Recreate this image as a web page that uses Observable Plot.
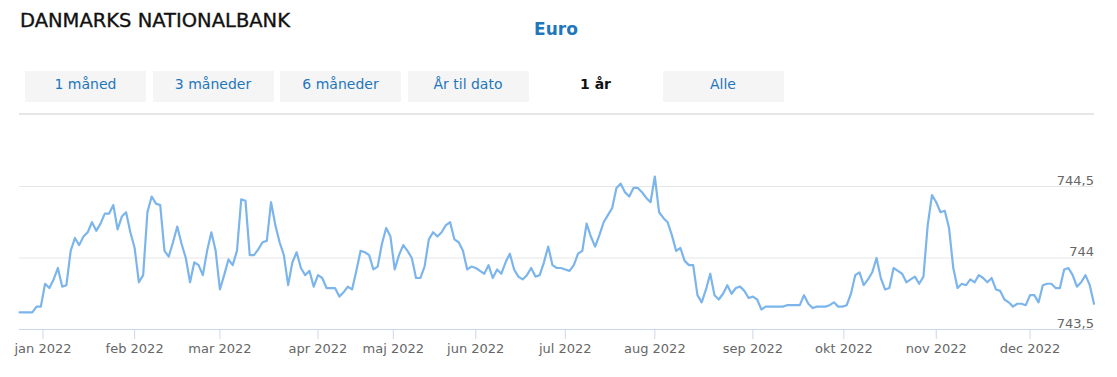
<!DOCTYPE html>
<html>
<head>
<meta charset="utf-8">
<script src="https://cdn.jsdelivr.net/npm/d3@7"></script>
<script src="https://cdn.jsdelivr.net/npm/@observablehq/plot@0.6"></script>
<style>
  html, body { margin: 0; padding: 0; background: #fff; }
  body { width: 1117px; height: 377px; position: relative; overflow: hidden; font-family: "DejaVu Sans", Verdana, sans-serif; }
  .title { position: absolute; left: 20px; top: 11px; font-size: 19.5px; line-height: 19.5px; color: #111; white-space: nowrap; -webkit-text-stroke: 0.35px #111; }
  .series { position: absolute; left: 0; width: 1112px; text-align: center; top: 21px; font-size: 17px; line-height: 17px; font-weight: bold; color: #1f77bb; }
  .btn { position: absolute; top: 71px; height: 31px; width: 121px; background: #f5f5f5; text-align: center; font-size: 14px; line-height: 27px; color: #1f77bb; white-space: nowrap; }
  .btn.sel { background: transparent; color: #111; font-weight: bold; }
  .sep { position: absolute; left: 19px; width: 1075px; top: 113px; height: 2px; background: #e6e6e6; }
  #chart { position: absolute; left: 0; top: 120px; }
</style>
</head>
<body>
<div class="title">DANMARKS NATIONALBANK</div>
<div class="series">Euro</div>
<div id="buttons"></div>
<div class="sep"></div>
<div id="chart"></div>
<script>
// Kurs for 100 EUR i DKK, bankdage 22-12-2021 .. 22-12-2022
const values = [
743.62, 743.62, 743.62, 743.62, 743.66, 743.66, 743.82, 743.79, 743.85, 743.93,
743.80, 743.81, 744.05, 744.14, 744.09, 744.15, 744.18, 744.25, 744.19, 744.24,
744.31, 744.31, 744.37, 744.20, 744.29, 744.32, 744.18, 744.07, 743.83, 743.88,
744.32, 744.43, 744.38, 744.37, 744.05, 744.01, 744.11, 744.22, 744.10, 744.00,
743.83, 743.97, 743.95, 743.88, 744.05, 744.18, 744.05, 743.78, 743.88, 743.99,
743.95, 744.05, 744.41, 744.40, 744.02, 744.02, 744.06, 744.11, 744.12, 744.39,
744.23, 744.11, 744.02, 743.81, 743.97, 744.04, 743.93, 743.88, 743.91, 743.80,
743.88, 743.86, 743.79, 743.79, 743.79, 743.73, 743.76, 743.80, 743.78, 743.91,
744.05, 744.04, 744.02, 743.92, 743.94, 744.10, 744.21, 744.15, 743.92, 744.02,
744.09, 744.05, 744.00, 743.86, 743.86, 743.94, 744.13, 744.18, 744.15, 744.18,
744.23, 744.25, 744.13, 744.11, 744.05, 743.92, 743.94, 743.93, 743.91, 743.89,
743.95, 743.86, 743.92, 743.89, 743.97, 744.03, 743.92, 743.87, 743.85, 743.88,
743.93, 743.87, 743.88, 743.97, 744.08, 743.95, 743.93, 743.93, 743.92, 743.91,
743.95, 744.03, 744.05, 744.24, 744.15, 744.08, 744.16, 744.25, 744.30, 744.35,
744.49, 744.52, 744.46, 744.43, 744.49, 744.49, 744.46, 744.42, 744.39, 744.57,
744.32, 744.28, 744.25, 744.16, 744.05, 744.07, 743.98, 743.95, 743.95, 743.74,
743.69, 743.78, 743.89, 743.74, 743.71, 743.75, 743.81, 743.75, 743.79, 743.80,
743.77, 743.72, 743.73, 743.71, 743.64, 743.66, 743.66, 743.66, 743.66, 743.66,
743.67, 743.67, 743.67, 743.67, 743.74, 743.68, 743.65, 743.66, 743.66, 743.66,
743.67, 743.69, 743.66, 743.66, 743.67, 743.75, 743.88, 743.90, 743.81, 743.85,
743.90, 744.00, 743.86, 743.78, 743.79, 743.93, 743.91, 743.89, 743.83, 743.85,
743.87, 743.82, 743.87, 744.23, 744.44, 744.39, 744.32, 744.33, 744.21, 743.93,
743.79, 743.82, 743.81, 743.85, 743.83, 743.88, 743.86, 743.83, 743.86, 743.78,
743.77, 743.71, 743.69, 743.66, 743.68, 743.68, 743.67, 743.74, 743.74, 743.69,
743.81, 743.82, 743.82, 743.79, 743.79, 743.92, 743.93, 743.88, 743.80, 743.83,
743.88, 743.81, 743.68
];
const startDate = "2021-12-22";
const endDate = "2022-12-22";
const bankHolidays = ["2021-12-24", "2021-12-31", "2022-04-14", "2022-04-15", "2022-04-18",
                      "2022-05-13", "2022-05-26", "2022-05-27", "2022-06-06"];
const monthStarts = ["2022-01-01", "2022-02-01", "2022-03-01", "2022-04-01", "2022-05-01", "2022-06-01",
                     "2022-07-01", "2022-08-01", "2022-09-01", "2022-10-01", "2022-11-01", "2022-12-01"];
const monthLabels = ["jan 2022", "feb 2022", "mar 2022", "apr 2022", "maj 2022", "jun 2022",
                     "jul 2022", "aug 2022", "sep 2022", "okt 2022", "nov 2022", "dec 2022"];
const yTicks = [743.5, 744, 744.5];
const buttonLabels = ["1 måned", "3 måneder", "6 måneder", "År til dato", "1 år", "Alle"];
const selectedButton = "1 år";

// buttons
const btnWrap = document.getElementById("buttons");
buttonLabels.forEach((t, i) => {
  const b = document.createElement("div");
  b.className = "btn" + (t === selectedButton ? " sel" : "");
  b.style.left = (25 + i * 127.5) + "px";
  b.textContent = t;
  btnWrap.appendChild(b);
});

// trading days (ordinal x axis as in the original stock chart)
const parse = d3.utcParse("%Y-%m-%d");
const fmt = d3.utcFormat("%Y-%m-%d");
const hol = new Set(bankHolidays);
const days = d3.utcDay.range(parse(startDate), d3.utcDay.offset(parse(endDate), 1))
  .filter(d => d.getUTCDay() % 6 !== 0 && !hol.has(fmt(d)));
const rows = values.map((v, i) => ({i, date: days[i], v}));

function ordinalPos(m) {
  const i = d3.bisectRight(days.map(d => +d), +m) - 1;
  if (i < 0) return 0;
  if (+days[i] === +m || i >= days.length - 1) return i;
  return i + (m - days[i]) / (days[i + 1] - days[i]);
}
const tickPos = monthStarts.map(s => ordinalPos(parse(s)));
const labelOf = new Map(tickPos.map((p, k) => [p, monthLabels[k]]));

const chart = Plot.plot({
  width: 1117,
  height: 257,
  marginLeft: 19,
  marginRight: 23.5,
  marginTop: 66,
  marginBottom: 48,
  style: {fontFamily: "DejaVu Sans, Verdana, sans-serif", fontSize: "13px", background: "transparent"},
  x: {domain: [0, values.length - 1], axis: null},
  y: {domain: [743.5, 744.5], axis: null},
  marks: [
    Plot.ruleY(yTicks.slice(1), {stroke: "#e6e6e6", strokeWidth: 1}),
    Plot.ruleY([yTicks[0]], {stroke: "#ccd6eb", strokeWidth: 1}),
    Plot.axisX(tickPos, {anchor: "bottom", label: null, tickSize: 10, tickPadding: 4, stroke: "#ccd6eb",
      fill: "#666666", fontSize: 13, tickFormat: d => labelOf.get(d)}),
    Plot.text(yTicks, {y: d => d, frameAnchor: "right", textAnchor: "end", lineAnchor: "bottom",
      text: d => String(d).replace(".", ","), fill: "#666666", fontSize: 13, dy: -2}),
    Plot.line(rows, {x: "i", y: "v", stroke: "#7cb5ec", strokeWidth: 2.2, strokeLinejoin: "round"})
  ]
});
document.getElementById("chart").appendChild(chart);
</script>
</body>
</html>
